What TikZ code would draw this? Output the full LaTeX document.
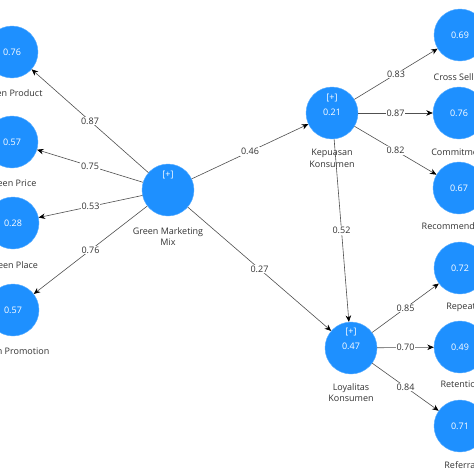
\documentclass[tikz,border=0pt]{standalone}
\usepackage{fontspec}
\setmainfont{Open Sans}
\usetikzlibrary{arrows.meta}
\definecolor{lv}{HTML}{1E90FF}
\definecolor{lvedge}{HTML}{5AAEFF}
\definecolor{edgec}{HTML}{505050}
\definecolor{labc}{HTML}{333333}
\tikzset{
  lvar/.style={circle, fill=lv, draw=lvedge, line width=0.4pt, minimum size=52pt, inner sep=0pt,
    text=white, font=\fontsize{9}{10}\selectfont},
  lab/.style={text=labc, font=\fontsize{9}{11.5}\selectfont, align=center, anchor=north, inner sep=0pt},
  plus/.style={text=white, font=\fontsize{9}{10}\selectfont, inner sep=0pt},
  conn/.style={draw=edgec, line width=0.6pt, -{Stealth[length=6.5pt,width=5.5pt,black]}},
  elab/.style={fill=white, text=labc, font=\fontsize{9}{10}\selectfont, inner sep=1pt},
}
\begin{document}
\begin{tikzpicture}[x=1pt,y=-1pt]
\useasboundingbox (0,0) rectangle (474,474);
\clip (0,0) rectangle (474,474);
\fill[white] (0,0) rectangle (474,474);
% latent / indicator circles
\node[lvar] (gp)   at (12,52)  {0.76};
\node[lvar] (gpr)  at (12,142) {0.57};
\node[lvar] (gpl)  at (13,223) {0.28};
\node[lvar] (gpro) at (13,310) {0.57};
\node[lvar] (gmm)  at (168,190) {};
\node[lvar] (kep)  at (332,113) {};
\node[lvar] (loy)  at (351,348) {};
\node[lvar] (cs)   at (460,35)  {0.69};
\node[lvar] (com)  at (459,113) {0.76};
\node[lvar] (rec)  at (459,188) {0.67};
\node[lvar] (rep)  at (460,268) {0.72};
\node[lvar] (ret)  at (460,347) {0.49};
\node[lvar] (ref)  at (460,426) {0.71};
% inner texts of composite constructs
\node[plus] (gmmp) at (168,175) {[+]};
\node[plus] (kepp) at (332,98)  {[+]};
\node[plus] (kepv) at (332,112) {0.21};
\node[plus] (loyp) at (351,332) {[+]};
\node[plus] (loyv) at (351,346) {0.47};
% labels under circles
\node[lab] (lgp)   at (12,89)  {Green Product};
\node[lab] (lgpr)  at (12,180) {Green Price};
\node[lab] (lgpl)  at (13,261) {Green Place};
\node[lab] (lgpro) at (13,348) {Green Promotion};
\node[lab] (lgmm)  at (168,227) {Green Marketing\\Mix};
\node[lab] (lkep)  at (332,149) {Kepuasan\\Konsumen};
\node[lab] (lloy)  at (351,383) {Loyalitas\\Konsumen};
\node[lab] (lcs)   at (460,73)  {Cross Selling};
\node[lab] (lcom)  at (459,149) {Commitment};
\node[lab] (lrec)  at (459,222) {Recommendation};
\node[lab] (lrep)  at (461,303) {Repeat};
\node[lab] (lret)  at (461,381) {Retention};
\node[lab] (lref)  at (461,461) {Referral};
% connectors
\draw[conn] (gmm) -- node[elab] {0.87} (gp);
\draw[conn] (gmm) -- node[elab] {0.75} (gpr);
\draw[conn] (gmm) -- node[elab] {0.53} (gpl);
\draw[conn] (gmm) -- node[elab] {0.76} (gpro);
\draw[conn] (gmm) -- node[elab] {0.46} (kep);
\draw[conn] (gmm) -- node[elab] {0.27} (loy);
\draw[conn] (kep) -- node[elab] {0.52} (loy);
\draw[conn] (kep) -- node[elab] {0.83} (cs);
\draw[conn] (kep) -- node[elab] {0.87} (com);
\draw[conn] (kep) -- node[elab] {0.82} (rec);
\draw[conn] (loy) -- node[elab] {0.85} (rep);
\draw[conn] (loy) -- node[elab] {0.70} (ret);
\draw[conn] (loy) -- node[elab] {0.84} (ref);
\end{tikzpicture}
\end{document}
